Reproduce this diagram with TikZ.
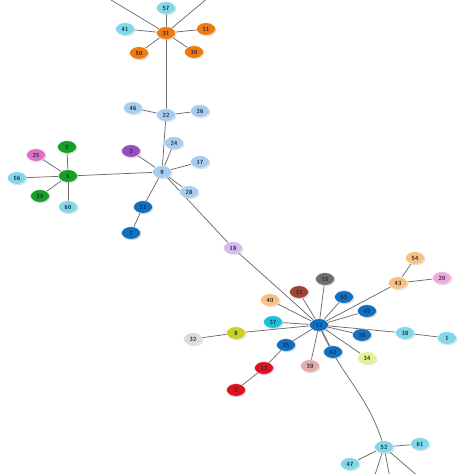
\documentclass[tikz,border=0pt]{standalone}
\usepackage{tikz}
\usetikzlibrary{shapes,shadows,backgrounds}
\definecolor{lblue}{HTML}{A8CCF0}
\definecolor{cyn}{HTML}{80D8E8}
\definecolor{cynd}{HTML}{20C0D8}
\definecolor{orng}{HTML}{F07A10}
\definecolor{lorng}{HTML}{F8C27E}
\definecolor{grn}{HTML}{14A024}
\definecolor{pnk}{HTML}{E070C8}
\definecolor{lpnk}{HTML}{F4A8D8}
\definecolor{purp}{HTML}{9550C0}
\definecolor{lav}{HTML}{D4BCEC}
\definecolor{blu}{HTML}{1070C0}
\definecolor{gry}{HTML}{6E6E6E}
\definecolor{lgry}{HTML}{DCDCDC}
\definecolor{brwn}{HTML}{A04535}
\definecolor{ylw}{HTML}{C8D020}
\definecolor{rd}{HTML}{E01020}
\definecolor{rose}{HTML}{E4ACA4}
\definecolor{pylw}{HTML}{E8F090}
\definecolor{txt}{HTML}{1E2A44}

\begin{document}
\begin{tikzpicture}[x=1pt,y=-1pt,
  vtx/.style={ellipse,fill=#1,draw=white,line width=0.3pt,minimum width=19pt,minimum height=12.5pt,inner sep=0pt,
    text=txt,font=\fontsize{6}{6}\selectfont\sffamily\bfseries,
    drop shadow={opacity=0.3,shadow xshift=0.9pt,shadow yshift=-0.9pt}},
  edge/.style={draw=black!58,line width=0.75pt}]
\useasboundingbox (0,0) rectangle (474,474);

% to write the nodes: top cluster
\node [vtx=cyn] (n57) at (166,8) {57};
\node [vtx=cyn] (n41) at (125,29) {41};
\node [vtx=orng] (n31) at (166,33) {31};
\node [vtx=orng] (n11) at (206,29) {11};
\node [vtx=orng] (n50) at (139,53) {50};
\node [vtx=orng] (n30) at (194,52) {30};

% middle cluster
\node [vtx=lblue] (n46) at (133,108) {46};
\node [vtx=lblue] (n22) at (166,115) {22};
\node [vtx=lblue] (n26) at (200,111) {26};
\node [vtx=lblue] (n24) at (174,143) {24};
\node [vtx=purp] (n3) at (131,151) {3};
\node [vtx=lblue] (n17) at (200,162) {17};
\node [vtx=lblue] (n9) at (162,172) {9};
\node [vtx=lblue] (n28) at (189,192) {28};
\node [vtx=blu] (n51) at (143,207) {51};
\node [vtx=blu] (n7) at (131,233) {7};

% left cluster
\node [vtx=grn] (n5) at (67,147) {5};
\node [vtx=pnk] (n25) at (36,155) {25};
\node [vtx=cyn] (n56) at (17,178) {56};
\node [vtx=grn] (n6) at (68,176) {6};
\node [vtx=grn] (n59) at (40,196) {59};
\node [vtx=cyn] (n60) at (68,207) {60};

\node [vtx=lav] (n18) at (233,248) {18};

% right cluster
\node [vtx=gry] (n15) at (325,279) {15};
\node [vtx=brwn] (n33) at (299,292) {33};
\node [vtx=lorng] (n40) at (270,300) {40};
\node [vtx=cynd] (n37) at (273,322) {37};
\node [vtx=ylw] (n8) at (236,333) {8};
\node [vtx=lgry] (n32) at (193,339) {32};
\node [vtx=blu] (n35) at (286,345) {35};
\node [vtx=rd] (n13) at (264,368) {13};
\node [vtx=rd] (n2) at (236,390) {2};
\node [vtx=rose] (n39) at (310,366) {39};
\node [vtx=blu] (n42) at (333,352) {42};
\node [vtx=pylw] (n34) at (367,358) {34};
\node [vtx=blu] (n16) at (362,335) {16};
\node [vtx=blu] (n49) at (367,311) {49};
\node [vtx=blu] (n55) at (344,297) {55};
\node [vtx=lorng] (n43) at (398,283) {43};
\node [vtx=lorng] (n54) at (415,258) {54};
\node [vtx=lpnk] (n20) at (442,278) {20};
\node [vtx=cyn] (n38) at (405,333) {38};
\node [vtx=cyn] (n1) at (447,338) {1};
\node [vtx=blu] (n12) at (319,325) {12};

% bottom cluster
\node [vtx=cyn] (n52) at (384,447) {52};
\node [vtx=cyn] (n61) at (420,444) {61};
\node [vtx=cyn] (n47) at (350,464) {47};

% loose ends off the picture
\coordinate (tl) at (106,-3);
\coordinate (tr) at (209,-3);
\coordinate (b1) at (374,478);
\coordinate (b2) at (390,478);
\coordinate (b3) at (420,478);

% to draw the edges behind the nodes
\begin{pgfonlayer}{background}
\draw [edge] (n31) -- (tl);
\draw [edge] (n31) -- (tr);
\foreach \x in {57,41,11,50,30,22} \draw [edge] (n31) -- (n\x);
\foreach \x in {46,26,9} \draw [edge] (n22) -- (n\x);
\foreach \x in {24,17,3,28,51,6,18} \draw [edge] (n9) -- (n\x);
\draw [edge] (n51) -- (n7);
\foreach \x in {5,25,56,59,60} \draw [edge] (n6) -- (n\x);
\draw [edge] (n18) -- (n12);
\foreach \x in {15,33,40,37,8,35,39,42,34,16,38,49,55,43} \draw [edge] (n12) -- (n\x);
\draw [edge] (n8) -- (n32);
\draw [edge] (n35) -- (n13);
\draw [edge] (n13) -- (n2);
\draw [edge] (n38) -- (n1);
\draw [edge] (n43) -- (n54);
\draw [edge] (n43) -- (n20);
\draw [edge] (n12) to[out=-66,in=108] (n52);
\foreach \x in {61,47} \draw [edge] (n52) -- (n\x);
\foreach \x in {b1,b2,b3} \draw [edge] (n52) -- (\x);
\end{pgfonlayer}
\end{tikzpicture}
\end{document}
